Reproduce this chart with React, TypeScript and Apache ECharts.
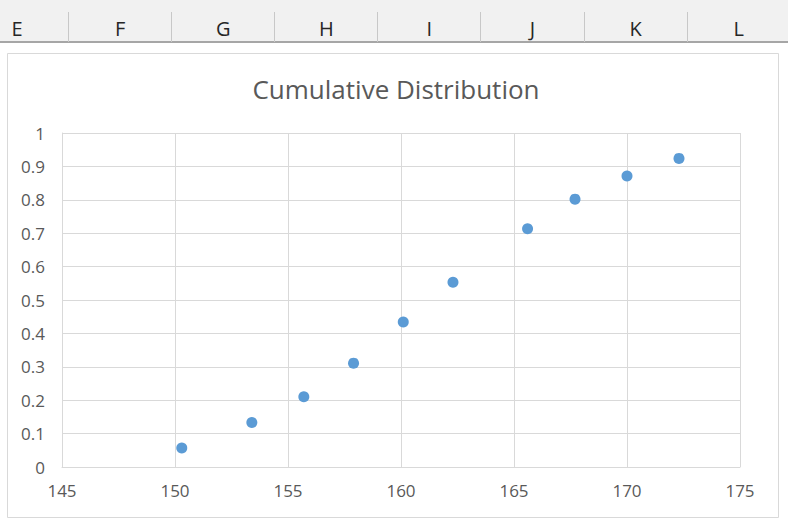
import React, { useEffect, useRef } from "react";
import * as echarts from "echarts";

// Spreadsheet column headers visible above the chart
const columnLetters = ["E", "F", "G", "H", "I", "J", "K", "L"];

// Scatter data: x = height value, y = cumulative proportion
const heights = [150.3, 153.4, 155.7, 157.9, 160.1, 162.3, 165.6, 167.7, 170.0, 172.3];
const cumulative = [0.057, 0.133, 0.21, 0.311, 0.434, 0.553, 0.713, 0.802, 0.871, 0.924];

const chartTitle = "Cumulative Distribution";

const FONT = "'Open Sans', 'Noto Sans', sans-serif";
const LABEL_COLOR = "#595959";
const GRID_COLOR = "#d9d9d9";

export default function App() {
  const ref = useRef<HTMLDivElement>(null);

  useEffect(() => {
    if (!ref.current) return;
    const chart = echarts.init(ref.current, undefined, { renderer: "svg" });

    const colW = 103.1;
    const headerElems: any[] = [
      { type: "rect", shape: { x: 0, y: 0, width: 788, height: 43 }, style: { fill: "#f1f1f1" }, z: 0 },
      { type: "rect", shape: { x: 0, y: 41, width: 788, height: 2 }, style: { fill: "#a6a6a6" }, z: 1 },
    ];
    columnLetters.forEach((letter, i) => {
      headerElems.push({
        type: "text",
        x: 17 + i * colW,
        y: 28,
        style: {
          text: letter,
          fill: "#262626",
          font: `20px ${FONT}`,
          align: "center",
          verticalAlign: "middle",
        },
        z: 2,
      });
      if (i < columnLetters.length - 1) {
        const sx = Math.round(68 + i * colW) + 0.5;
        headerElems.push({
          type: "line",
          shape: { x1: sx, y1: 12, x2: sx, y2: 42 },
          style: { stroke: "#c8c8c8", lineWidth: 1 },
          z: 1,
        });
      }
    });
    headerElems.push({
      type: "rect",
      shape: { x: 7.5, y: 53.5, width: 771, height: 464 },
      style: { fill: "none", stroke: "#d9d9d9", lineWidth: 1 },
      z: 1,
    });

    chart.setOption({
      animation: false,
      backgroundColor: "#ffffff",
      title: {
        text: chartTitle,
        left: 391,
        top: 71,
        textAlign: "center",
        textStyle: {
          fontFamily: FONT,
          fontSize: 26,
          fontWeight: "normal",
          color: LABEL_COLOR,
        },
      },
      graphic: headerElems,
      grid: { left: 62, right: 48, top: 133, bottom: 58, containLabel: false },
      xAxis: {
        type: "value",
        min: 145,
        max: 175,
        interval: 5,
        axisLine: { show: true, lineStyle: { color: GRID_COLOR, width: 1 } },
        axisTick: { show: false },
        splitLine: { show: true, lineStyle: { color: GRID_COLOR, width: 1 } },
        axisLabel: { color: LABEL_COLOR, fontFamily: FONT, fontSize: 17, margin: 15 },
      },
      yAxis: {
        type: "value",
        min: 0,
        max: 1,
        interval: 0.1,
        axisLine: { show: true, lineStyle: { color: GRID_COLOR, width: 1 } },
        axisTick: { show: false },
        splitLine: { show: true, lineStyle: { color: GRID_COLOR, width: 1 } },
        axisLabel: {
          color: LABEL_COLOR,
          fontFamily: FONT,
          fontSize: 17,
          margin: 17,
          formatter: (v: number) => String(Math.round(v * 10) / 10),
        },
      },
      series: [
        {
          type: "scatter",
          data: heights.map((h, i) => [h, cumulative[i]]),
          symbol: "circle",
          symbolSize: 11,
          itemStyle: { color: "#5b9bd5", opacity: 1 },
        },
      ],
    });

    return () => chart.dispose();
  }, []);

  return (
    <div
      ref={ref}
      style={{ position: "absolute", left: 0, top: 0, width: 788, height: 525 }}
    />
  );
}
